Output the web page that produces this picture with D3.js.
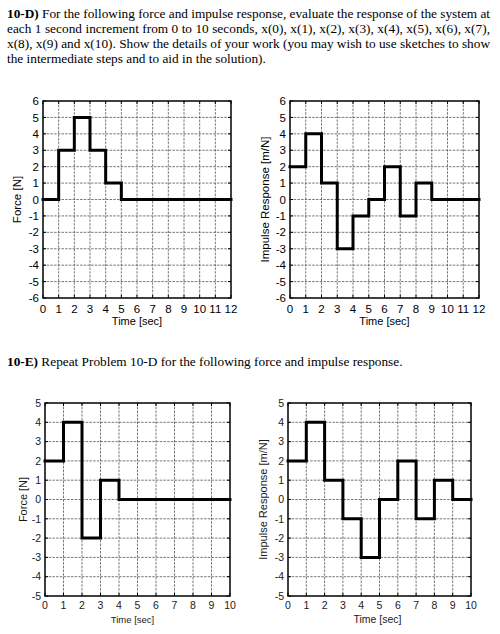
<!DOCTYPE html>
<html>
<head>
<meta charset="utf-8">
<script src="https://cdn.jsdelivr.net/npm/d3@7"></script>
<style>
  body { margin: 0; background: #fff; }
  svg { display: block; }
</style>
</head>
<body>
<svg id="page"></svg>
<script>
const width = 500;
const height = 634;

// Problem text lines
const textD = [
    {bold: "10-D)", rest: " For the following force and impulse response, evaluate the response of the system at", justify: true},
    {bold: "", rest: "each 1 second increment from 0 to 10 seconds, x(0), x(1), x(2), x(3), x(4), x(5), x(6), x(7),", justify: true},
    {bold: "", rest: "x(8), x(9) and x(10). Show the details of your work (you may wish to use sketches to show", justify: true},
    {bold: "", rest: "the intermediate steps and to aid in the solution).", justify: false}
];
const textE = [
    {bold: "10-E)", rest: " Repeat Problem 10-D for the following force and impulse response.", justify: false}
];

// Step values, one per 1 second interval
const forceD   = [0, 3, 5, 3, 1, 0, 0, 0, 0, 0, 0, 0];
const impulseD = [2, 4, 1, -3, -1, 0, 2, -1, 1, 0, 0, 0];
const forceE   = [2, 4, -2, 1, 0, 0, 0, 0, 0, 0];
const impulseE = [2, 4, 1, -1, -3, 0, 2, -1, 1, 0];

// Axis ranges
const xTicksD = d3.range(0, 13);
const yTicksD = d3.range(-6, 7);
const xTicksE = d3.range(0, 11);
const yTicksE = d3.range(-5, 6);

const xLabel = "Time [sec]";
const forceLabel = "Force [N]";
const impulseLabel = "Impulse Response [m/N]";

const svg = d3.select("#page")
    .attr("width", width)
    .attr("height", height);

function drawText(lines, x, y0, lineH, right)
{
    lines.forEach((l, i) => {
        let t = svg.append("text")
            .attr("x", x)
            .attr("y", y0 + i * lineH)
            .style("font-family", "'Liberation Serif', 'Times New Roman', serif")
            .style("font-size", "13.3px")
            .attr("fill", "#000");
        if (l.bold) t.append("tspan").style("font-weight", "bold").text(l.bold);
        t.append("tspan").text(l.rest);
        if (l.justify)
        {
            t.attr("textLength", right - x).attr("lengthAdjust", "spacing");
        }
    });
}

drawText(textD, 7, 18, 15, 490);
drawText(textE, 7, 366, 15, 490);

// One MATLAB-like step plot
function makePlot(box, values, xTicks, yTicks, yTitle, opts)
{
    let x = d3.scaleLinear()
        .domain([xTicks[0], xTicks[xTicks.length - 1]])
        .range([box.left, box.right]);
    let y = d3.scaleLinear()
        .domain([yTicks[0], yTicks[yTicks.length - 1]])
        .range([box.bottom, box.top]);

    let g = svg.append("g");

    // Grid
    g.selectAll(".vgrid").data(xTicks.slice(1, -1)).join("line")
        .attr("x1", d => x(d)).attr("x2", d => x(d))
        .attr("y1", box.top).attr("y2", box.bottom)
        .attr("stroke", "#555").attr("stroke-width", 0.8)
        .attr("stroke-dasharray", "2.5,1.2");
    g.selectAll(".hgrid").data(yTicks.slice(1, -1)).join("line")
        .attr("y1", d => y(d)).attr("y2", d => y(d))
        .attr("x1", box.left).attr("x2", box.right)
        .attr("stroke", "#555").attr("stroke-width", 0.8)
        .attr("stroke-dasharray", "2.5,1.2");

    // Inward ticks on all sides
    let tk = 3;
    xTicks.forEach(d => {
        g.append("line").attr("x1", x(d)).attr("x2", x(d))
            .attr("y1", box.bottom).attr("y2", box.bottom - tk)
            .attr("stroke", "#000").attr("stroke-width", 1);
        g.append("line").attr("x1", x(d)).attr("x2", x(d))
            .attr("y1", box.top).attr("y2", box.top + tk)
            .attr("stroke", "#000").attr("stroke-width", 1);
    });
    yTicks.forEach(d => {
        g.append("line").attr("y1", y(d)).attr("y2", y(d))
            .attr("x1", box.left).attr("x2", box.left + tk)
            .attr("stroke", "#000").attr("stroke-width", 1);
        g.append("line").attr("y1", y(d)).attr("y2", y(d))
            .attr("x1", box.right).attr("x2", box.right - tk)
            .attr("stroke", "#000").attr("stroke-width", 1);
    });

    // Step line: repeat last value at the end
    let pts = values.map((v, i) => [i, v]);
    pts.push([values.length, values[values.length - 1]]);
    let line = d3.line()
        .x(d => x(d[0]))
        .y(d => y(d[1]))
        .curve(d3.curveStepAfter);
    g.append("path")
        .attr("d", line(pts))
        .attr("fill", "none")
        .attr("stroke", "#000")
        .attr("stroke-width", 3)
        .attr("stroke-linejoin", "miter")
        .attr("stroke-linecap", "square");

    // Frame
    g.append("rect")
        .attr("x", box.left).attr("y", box.top)
        .attr("width", box.right - box.left)
        .attr("height", box.bottom - box.top)
        .attr("fill", "none")
        .attr("stroke", "#000")
        .attr("stroke-width", 1.5);

    let font = "'Liberation Sans', Arial, sans-serif";

    // Tick labels
    g.selectAll(".xl").data(xTicks).join("text")
        .attr("x", d => x(d))
        .attr("y", box.bottom + opts.xLabelDy)
        .attr("text-anchor", "middle")
        .style("font-family", font)
        .style("font-size", opts.fontSize + "px")
        .attr("fill", opts.color)
        .text(d => d);
    g.selectAll(".yl").data(yTicks).join("text")
        .attr("x", box.left - 4)
        .attr("y", d => y(d) + opts.fontSize * 0.36)
        .attr("text-anchor", "end")
        .style("font-family", font)
        .style("font-size", opts.fontSize + "px")
        .attr("fill", opts.color)
        .text(d => d);

    // Axis titles
    g.append("text")
        .attr("x", (box.left + box.right) / 2 + opts.xTitleShift)
        .attr("y", box.bottom + opts.xTitleDy)
        .attr("text-anchor", "middle")
        .style("font-family", font)
        .style("font-size", opts.xTitleSize + "px")
        .attr("fill", opts.color)
        .text(xLabel);
    g.append("text")
        .attr("transform", "translate(" + opts.yTitleX + "," + ((box.top + box.bottom) / 2) + ") rotate(-90)")
        .attr("text-anchor", "middle")
        .attr("dy", "0.35em")
        .style("font-family", font)
        .style("font-size", opts.yTitleSize + "px")
        .attr("fill", opts.color)
        .text(yTitle);
}

let optsD = {fontSize: 11.5, xTitleSize: 11, yTitleSize: 11.5, xLabelDy: 14.5, xTitleDy: 26.5, xTitleShift: 0, color: "#000"};
let optsE = {fontSize: 10.5, xTitleSize: 10.5, yTitleSize: 11, xLabelDy: 12.5, xTitleDy: 27, xTitleShift: 0, color: "#1a1a1a"};

makePlot({left: 43, right: 231, top: 101, bottom: 298}, forceD, xTicksD, yTicksD, forceLabel,
    Object.assign({}, optsD, {yTitleX: 17}));
makePlot({left: 290, right: 479, top: 101, bottom: 298}, impulseD, xTicksD, yTicksD, impulseLabel,
    Object.assign({}, optsD, {yTitleX: 265}));
makePlot({left: 45, right: 230, top: 403, bottom: 596}, forceE, xTicksE, yTicksE, forceLabel,
    Object.assign({}, optsE, {yTitleX: 23, xTitleSize: 9.5, xTitleShift: -5}));
makePlot({left: 288, right: 471, top: 403, bottom: 596}, impulseE, xTicksE, yTicksE, impulseLabel,
    Object.assign({}, optsE, {yTitleX: 263, xTitleShift: -2}));
</script>
</body>
</html>
